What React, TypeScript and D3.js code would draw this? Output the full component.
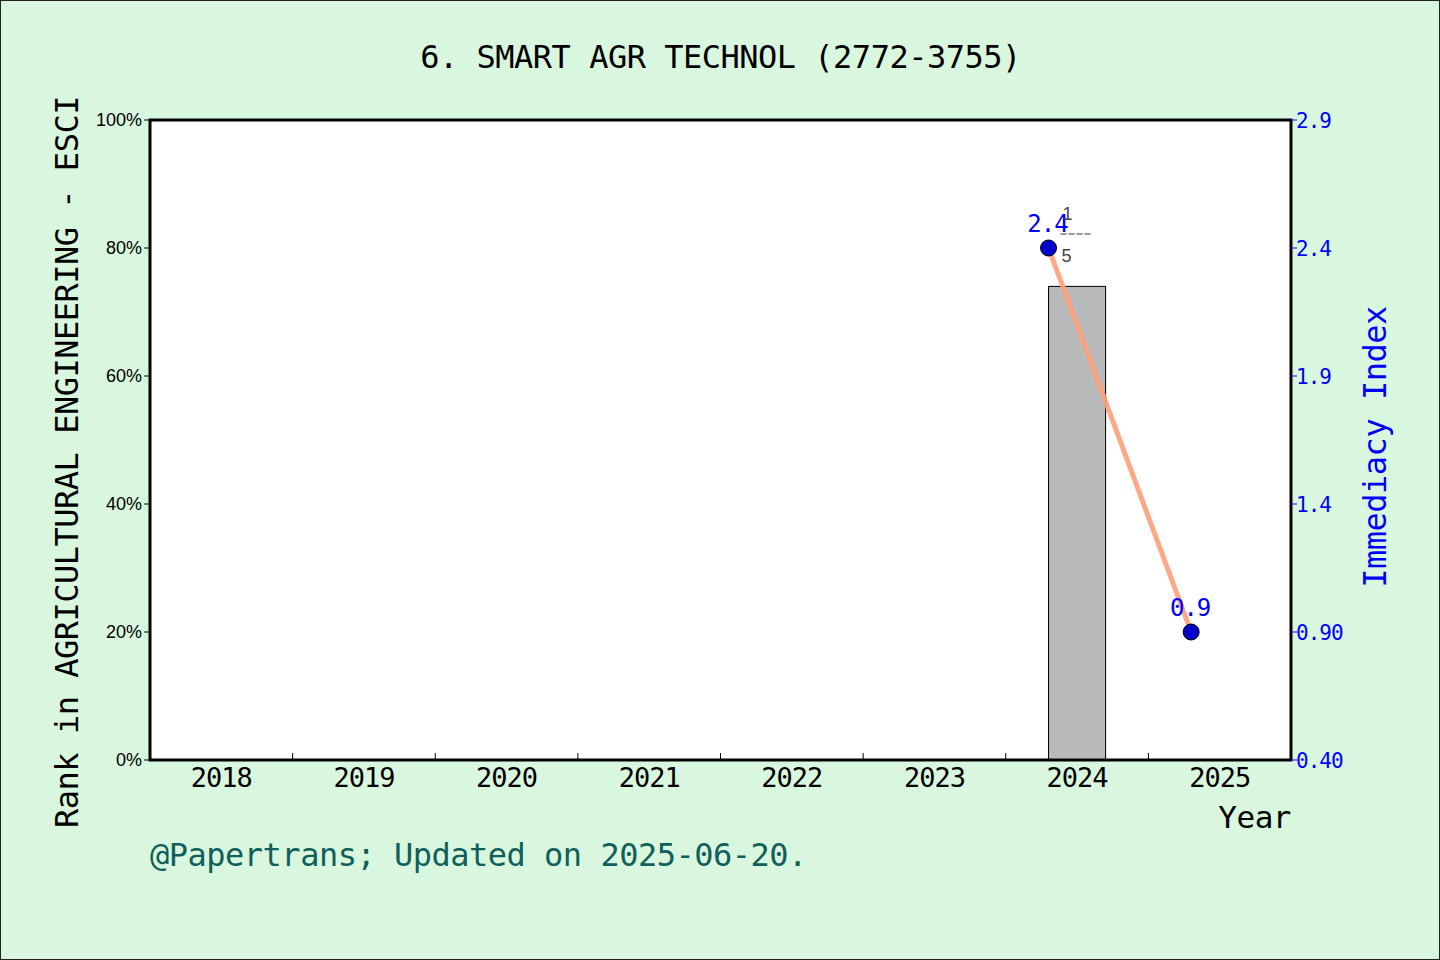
import React from "react";
import * as d3 from "d3";

const years = [2018, 2019, 2020, 2021, 2022, 2023, 2024, 2025];
const rankYears = [2024];
const rankValues = [0.74];
const rankLabelsTop = ["1"];
const rankLabelsBottom = ["5"];
const iiYears = [2024, 2025];
const iiValues = [2.4, 0.9];
const iiLabels = ["2.4", "0.9"];
const leftTicks = [0, 0.2, 0.4, 0.6, 0.8, 1.0];
const leftTickLabels = ["0%", "20%", "40%", "60%", "80%", "100%"];
const rightTicks = [0.4, 0.9, 1.4, 1.9, 2.4, 2.9];
const rightTickLabels = ["0.40", "0.90", "1.4", "1.9", "2.4", "2.9"];

const title = "6. SMART AGR TECHNOL (2772-3755)";
const leftLabel = "Rank in AGRICULTURAL ENGINEERING - ESCI";
const rightLabel = "Immediacy Index";
const xLabel = "Year";
const credit = "@Papertrans; Updated on 2025-06-20.";

const W = 1440;
const H = 960;
const m = { left: 150, right: 1291, top: 120, bottom: 760 };
const MONO = "'DejaVu Sans Mono', monospace";
const SANS = "'Liberation Sans', Arial, sans-serif";

export default function App() {
  const x = d3.scaleLinear().domain([2017.5, 2025.5]).range([m.left, m.right]);
  const band = x(1) - x(0);
  const yL = d3.scaleLinear().domain([0, 1]).range([m.bottom, m.top]);
  const yR = d3.scaleLinear().domain([0.4, 2.9]).range([m.bottom, m.top]);
  const barW = band * 0.4;
  const ptOff = -band * 0.2;
  const line = d3
    .line<number>()
    .x((_, i) => x(iiYears[i]) + ptOff)
    .y((d) => yR(d));
  const boundaries = d3.range(2018.5, 2025, 1);

  return (
    <div style={{ position: "absolute", left: 0, top: 0 }}>
      <svg width={W} height={H} viewBox={`0 0 ${W} ${H}`} style={{ display: "block" }}>
        <rect x={0.5} y={0.5} width={W - 1} height={H - 1} fill="#d9f7de" stroke="#222" strokeWidth={1} />
        <rect x={m.left} y={m.top} width={m.right - m.left} height={m.bottom - m.top} fill="#ffffff" />

        {/* bars */}
        {rankYears.map((yr, i) => (
          <rect
            key={yr}
            x={x(yr) - barW / 2}
            y={yL(rankValues[i])}
            width={barW}
            height={yL(0) - yL(rankValues[i])}
            fill="#b8b9ba"
            stroke="#000"
            strokeWidth={1}
          />
        ))}

        {/* line */}
        <path d={line(iiValues) || ""} fill="none" stroke="#ff9f7a" strokeWidth={5} strokeOpacity={0.9} />
        {iiYears.map((yr, i) => (
          <circle key={yr} cx={x(yr) + ptOff} cy={yR(iiValues[i])} r={8} fill="#0000cd" stroke="#000" strokeWidth={1} />
        ))}
        {iiYears.map((yr, i) => (
          <text
            key={"l" + yr}
            x={x(yr) + ptOff - 1}
            y={yR(iiValues[i]) - 16}
            textAnchor="middle"
            fontFamily={MONO}
            fontSize={24}
            fill="#0000ff"
            letterSpacing={-1}
          >
            {iiLabels[i]}
          </text>
        ))}

        {/* rank fraction annotation */}
        {rankYears.map((yr, i) => {
          const px = x(yr) + ptOff;
          const py = yR(iiValues[iiYears.indexOf(yr)]);
          return (
            <g key={"f" + yr} fill="#444" fontFamily={SANS} fontSize={18}>
              <text x={px + 19} y={py - 28} textAnchor="middle">{rankLabelsTop[i]}</text>
              <line x1={px + 12} x2={px + 44} y1={py - 14} y2={py - 14} stroke="#777" strokeWidth={1.5} strokeDasharray="6,2" />
              <text x={px + 18} y={py + 14} textAnchor="middle">{rankLabelsBottom[i]}</text>
            </g>
          );
        })}

        {/* frame */}
        <rect x={m.left} y={m.top} width={m.right - m.left} height={m.bottom - m.top} fill="none" stroke="#000" strokeWidth={3} />

        {/* bottom ticks */}
        {boundaries.map((b) => (
          <line key={b} x1={x(b)} x2={x(b)} y1={m.bottom} y2={m.bottom - 7} stroke="#000" strokeWidth={1} />
        ))}
        {years.map((yr) => (
          <text key={yr} x={x(yr)} y={787} textAnchor="middle" fontFamily={MONO} fontSize={27} letterSpacing={-1} fill="#000">
            {yr}
          </text>
        ))}

        {/* left axis */}
        {leftTicks.map((t, i) => (
          <g key={t}>
            <line x1={m.left - 6} x2={m.left} y1={yL(t)} y2={yL(t)} stroke="#000" strokeWidth={1} />
            <text x={m.left - 8} y={yL(t) + 6} textAnchor="end" fontFamily={SANS} fontSize={18} fill="#000">
              {leftTickLabels[i]}
            </text>
          </g>
        ))}

        {/* right axis */}
        {rightTicks.map((t, i) => (
          <g key={t}>
            <line x1={m.right} x2={m.right + 6} y1={yR(t)} y2={yR(t)} stroke="#0000ff" strokeWidth={1} />
            <text x={m.right + 5} y={yR(t) + 8} textAnchor="start" fontFamily={MONO} fontSize={21} letterSpacing={-1} fill="#0000ff">
              {rightTickLabels[i]}
            </text>
          </g>
        ))}

        {/* titles */}
        <text x={(m.left + m.right) / 2} y={68} textAnchor="middle" fontFamily={MONO} fontSize={32} letterSpacing={-0.5} fill="#000">
          {title}
        </text>
        <text
          transform={`translate(78, 462) rotate(-90)`}
          textAnchor="middle"
          fontFamily={MONO}
          fontSize={32}
          letterSpacing={-0.5}
          fill="#000"
        >
          {leftLabel}
        </text>
        <text
          transform={`translate(1386, ${(m.top + m.bottom) / 2 + 7}) rotate(-90)`}
          textAnchor="middle"
          fontFamily={MONO}
          fontSize={32}
          letterSpacing={-0.5}
          fill="#0000ff"
        >
          {rightLabel}
        </text>
        <text x={m.right} y={828} textAnchor="end" fontFamily={MONO} fontSize={31} letterSpacing={-0.5} fill="#000">
          {xLabel}
        </text>
        <text x={m.left} y={866} textAnchor="start" fontFamily={MONO} fontSize={32} letterSpacing={-0.5} fill="#0f5f5a">
          {credit}
        </text>
      </svg>
    </div>
  );
}
